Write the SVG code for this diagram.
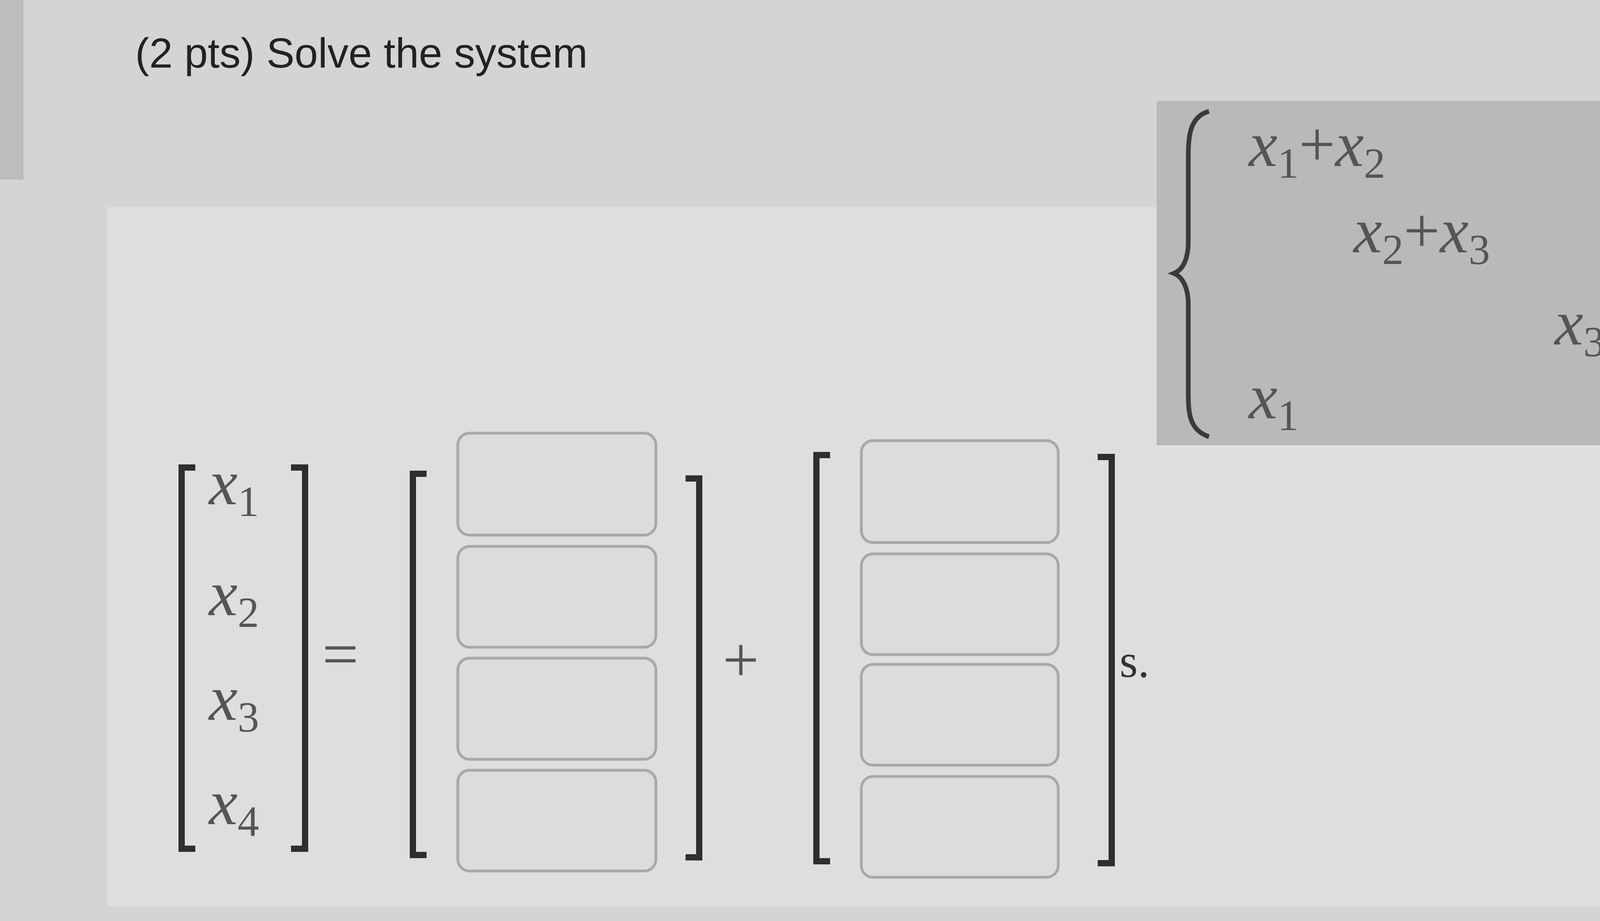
<svg xmlns="http://www.w3.org/2000/svg" width="4939" height="2358" viewBox="0 0 4939 2358">
<style>
.m{font-family:"Liberation Serif",serif;font-style:italic;font-size:165px;fill:#555}
.s{font-family:"Liberation Serif",serif;font-style:normal;font-size:110px;fill:#555}
.n{font-family:"Liberation Serif",serif;font-style:normal;font-size:165px;fill:#555}
.br{fill:none;stroke:#2e2e2e;stroke-width:16}
.bx{fill:#dcdcdc;stroke:#a8a8a8;stroke-width:7}
</style>
<rect width="4939" height="2358" fill="#d4d4d4"/>
<rect x="275" y="530" width="4664" height="1790" fill="#dedede"/>
<rect x="0" y="0" width="60" height="460" fill="#bdbdbd"/>
<text x="346" y="173" font-family="Liberation Sans,Arial,sans-serif" font-size="108" fill="#222">(2 pts) Solve the system</text>
<g id="system">
<rect x="2961" y="258" width="1544" height="882" fill="#b9b9b9"/>
<path d="M3095 285 C3040 300 3042 360 3042 420 L3042 620 C3042 660 3030 690 3005 700 C3030 710 3042 740 3042 780 L3042 990 C3042 1050 3040 1100 3095 1118" fill="none" stroke="#3a3a3a" stroke-width="12"/>
<text class="m" x="3197" y="425">x<tspan class="s" dy="30">1</tspan><tspan class="n" dy="-30">+</tspan>x<tspan class="s" dy="30">2</tspan></text>
<text class="n" x="4505" y="425" text-anchor="end">=2</text>
<text class="m" x="3465" y="646">x<tspan class="s" dy="30">2</tspan><tspan class="n" dy="-30">+</tspan>x<tspan class="s" dy="30">3</tspan></text>
<text class="n" x="4495" y="646" text-anchor="end">=1</text>
<text class="m" x="4505" y="882" text-anchor="end">x<tspan class="s" dy="30">3</tspan><tspan class="n" dy="-30">+</tspan>x<tspan class="s" dy="30">4</tspan><tspan class="n" dy="-30">=4</tspan></text>
<text class="m" x="3197" y="1071">x<tspan class="s" dy="30">1</tspan></text>
<text class="m" x="4505" y="1071" text-anchor="end"><tspan class="n">+</tspan>x<tspan class="s" dy="30">4</tspan><tspan class="n" dy="-30">=5</tspan></text>
</g>
<g id="lhs">
<path class="br" d="M500 1197 H465 V2173 H500"/>
<path class="br" d="M745 1197 H781 V2173 H745"/>
<text class="m" x="535" y="1291">x<tspan class="s" dy="30">1</tspan></text>
<text class="m" x="535" y="1575">x<tspan class="s" dy="30">2</tspan></text>
<text class="m" x="535" y="1843">x<tspan class="s" dy="30">3</tspan></text>
<text class="m" x="535" y="2110">x<tspan class="s" dy="30">4</tspan></text>
</g>
<text class="n" x="825" y="1730">=</text>
<g id="v1">
<path class="br" d="M1092 1213 H1057 V2189 H1092"/>
<path class="br" d="M1755 1225 H1790 V2195 H1755"/>
<rect class="bx" x="1172" y="1109" width="507" height="261" rx="30"/>
<rect class="bx" x="1172" y="1399" width="507" height="258" rx="30"/>
<rect class="bx" x="1172" y="1685" width="507" height="259" rx="30"/>
<rect class="bx" x="1172" y="1972" width="507" height="258" rx="30"/>
</g>
<text class="n" x="1850" y="1745">+</text>
<g id="v2">
<path class="br" d="M2125 1165 H2090 V2205 H2125"/>
<path class="br" d="M2810 1170 H2846 V2210 H2810"/>
<rect class="bx" x="2205" y="1128" width="504" height="261" rx="30"/>
<rect class="bx" x="2205" y="1418" width="504" height="258" rx="30"/>
<rect class="bx" x="2205" y="1701" width="504" height="258" rx="30"/>
<rect class="bx" x="2205" y="1988" width="504" height="258" rx="30"/>
</g>
<text x="2866" y="1733" font-family="Liberation Serif,serif" font-size="120" fill="#333">s.</text>
</svg>
